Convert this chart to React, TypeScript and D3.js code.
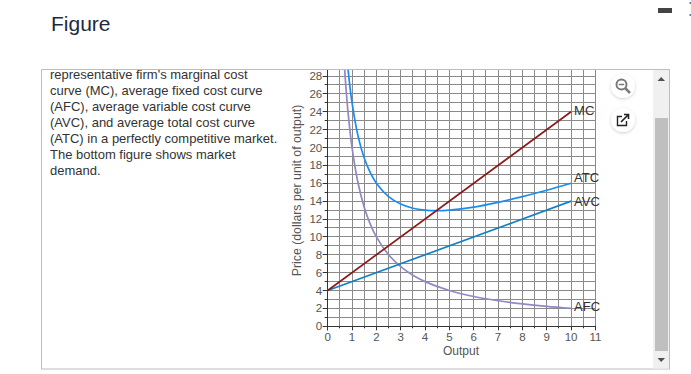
import React from "react";
import * as d3 from "d3";

const xTickLabels = [0, 1, 2, 3, 4, 5, 6, 7, 8, 9, 10, 11];
const yTickLabels = [0, 2, 4, 6, 8, 10, 12, 14, 16, 18, 20, 22, 24, 26, 28];
const mcX = [0, 10];
const mcY = [4, 24];
const avcX = [0, 10];
const avcY = [4, 14];
const afcX = [0.68, 0.75, 0.85, 1, 1.25, 1.5, 1.75, 2, 2.5, 3, 3.5, 4, 5, 6, 7, 8, 9, 10];
const afcY = [29.41, 26.67, 23.53, 20, 16, 13.33, 11.43, 10, 8, 6.67, 5.71, 5, 4, 3.33, 2.86, 2.5, 2.22, 2];
const atcX = [0.8, 0.9, 1, 1.25, 1.5, 1.75, 2, 2.5, 3, 3.5, 4, 4.5, 5, 6, 7, 8, 9, 10];
const atcY = [29.8, 27.12, 25, 21.25, 18.83, 17.18, 16, 14.5, 13.67, 13.21, 13, 12.94, 13, 13.33, 13.86, 14.5, 15.22, 16];
const curveLabels = ["MC", "ATC", "AVC", "AFC"];
const curveLabelY = [24, 16, 14, 2];
const bodyLines = [
  "representative firm's marginal cost",
  "curve (MC), average fixed cost curve",
  "(AFC), average variable cost curve",
  "(AVC), and average total cost curve",
  "(ATC) in a perfectly competitive market.",
  "The bottom figure shows market",
  "demand.",
];

const x = d3.scaleLinear().domain([0, 11]).range([327.7, 595.4]);
const y = d3.scaleLinear().domain([0, 28]).range([326.3, 76]);
const font = "'Liberation Sans', Arial, sans-serif";
const pts = (xs: number[], ys: number[]) => xs.map((v, i) => [v, ys[i]] as [number, number]);
const line = d3.line<[number, number]>().x((d) => x(d[0])).y((d) => y(d[1]));
const smooth = d3.line<[number, number]>().x((d) => x(d[0])).y((d) => y(d[1])).curve(d3.curveCatmullRom);
const px = (v: number) => Math.floor(v) + 0.5;

const xGrid = d3.range(0, 23).map((i) => i / 2);
const yGrid = d3.range(0, 29);
const labelDy = [3, -1, 5, 3];

export default function App() {
  return (
    <svg width={691} height={374} style={{ position: "absolute", left: 0, top: 0, background: "#fff" }} fontFamily={font}>
      <defs>
        <clipPath id="plot"><rect x={300} y={70} width={320} height={300} /></clipPath>
        <filter id="sh" x="-30%" y="-30%" width="160%" height="160%">
          <feDropShadow dx={0} dy={1} stdDeviation={1.5} floodColor="#000" floodOpacity={0.2} />
        </filter>
      </defs>
      <text x={51} y={31} fontSize={21} fill="#1c2b3f">Figure</text>
      <rect x={41.5} y={69.5} width={628} height={299.5} fill="none" stroke="#bdbdbd" />
      {bodyLines.map((t, i) => (
        <text key={t} x={50} y={79 + i * 16} fontSize={13} fill="#333">{t}</text>
      ))}

      <g stroke="#8a8a8a" strokeWidth={1}>
        {xGrid.slice(1).map((v) => (
          <line key={v} x1={px(x(v))} x2={px(x(v))} y1={70} y2={y(0)} />
        ))}
        {yGrid.slice(1).map((v) => (
          <line key={v} x1={x(0)} x2={px(x(11))} y1={px(y(v))} y2={px(y(v))} />
        ))}
      </g>
      <g stroke="#333" strokeWidth={1}>
        <line x1={px(x(0))} x2={px(x(0))} y1={70} y2={y(0) + 4} />
        <line x1={x(0) - 4} x2={px(x(11)) + 0.5} y1={px(y(0))} y2={px(y(0))} />
        {yGrid.map((v) => (
          <line key={v} x1={x(0) - (v % 2 === 0 ? 5 : 3)} x2={x(0)} y1={px(y(v))} y2={px(y(v))} />
        ))}
        {xGrid.map((v) => (
          <line key={v} x1={px(x(v))} x2={px(x(v))} y1={y(0)} y2={y(0) + (v % 1 === 0 ? 4 : 2)} />
        ))}
      </g>
      <g fontSize={11.5} fill="#555">
        {yTickLabels.map((v) => (
          <text key={v} x={x(0) - 5.5} y={y(v) + 4} textAnchor="end">{v}</text>
        ))}
        {xTickLabels.map((v) => (
          <text key={v} x={x(v)} y={340.5} textAnchor="middle">{v}</text>
        ))}
      </g>
      <text x={461} y={355} fontSize={12} fill="#555" textAnchor="middle">Output</text>
      <text transform="translate(301,190.5) rotate(-90)" fontSize={12.3} fill="#555" textAnchor="middle">
        Price (dollars per unit of output)
      </text>

      <g fill="none" clipPath="url(#plot)" strokeWidth={1.7}>
        <path d={smooth(pts(afcX, afcY)) ?? ""} stroke="#9188c4" />
        <path d={line(pts(avcX, avcY)) ?? ""} stroke="#1380c4" />
        <path d={smooth(pts(atcX, atcY)) ?? ""} stroke="#1a8cf0" />
        <path d={line(pts(mcX, mcY)) ?? ""} stroke="#8b1a1a" />
      </g>
      <g fontSize={13} fill="#333">
        {curveLabels.map((t, i) => (
          <text key={t} x={x(10) + 3} y={y(curveLabelY[i]) + labelDy[i]}>{t}</text>
        ))}
      </g>

      <rect x={653} y={70} width={16} height={298.5} fill="#f0f0f0" />
      <rect x={655} y={118} width={13} height={233} fill="#bfbfbf" />
      <path d="M657.5 81 L665 81 L661.2 77 Z" fill="#505050" />
      <path d="M657.5 358 L665 358 L661.2 362 Z" fill="#505050" />

      <circle cx={623} cy={86} r={12} fill="#fff" filter="url(#sh)" />
      <circle cx={621.5} cy={84.5} r={5} fill="none" stroke="#7a7a7a" strokeWidth={2} />
      <line x1={618.8} x2={624.2} y1={84.5} y2={84.5} stroke="#7a7a7a" strokeWidth={1.5} />
      <line x1={625.2} y1={88.2} x2={630} y2={93} stroke="#7a7a7a" strokeWidth={2.5} />
      <circle cx={623} cy={120} r={12} fill="#fff" filter="url(#sh)" />
      <path d="M622 116.5 H617.5 V125.5 H626.5 V121" fill="none" stroke="#222" strokeWidth={1.4} />
      <path d="M621 122 L628 115 M624 114.5 H628.5 V119" fill="none" stroke="#222" strokeWidth={1.6} />

      <rect x={658} y={8} width={14} height={5} fill="#444" />
      <rect x={689.5} y={2} width={1.5} height={2} fill="#5b7fa5" />
      <rect x={689.5} y={14} width={1.5} height={2} fill="#5b7fa5" />
    </svg>
  );
}
